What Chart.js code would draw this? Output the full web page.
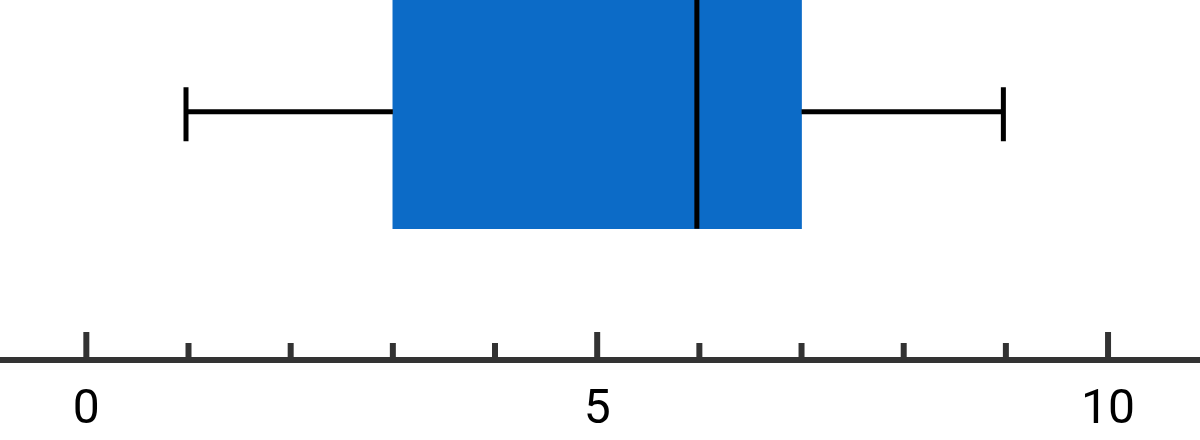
<!DOCTYPE html>
<html>
<head>
<meta charset="utf-8">
<script src="https://cdn.jsdelivr.net/npm/chart.js@4"></script>
<style>
  html, body { margin: 0; padding: 0; background: #fff; }
  #wrap { width: 1200px; height: 440px; }
</style>
</head>
<body>
<div id="wrap"><canvas id="boxChart"></canvas></div>
<script>
// one box, five numbers
var categories = ["A"];
var mins = [1];
var q1s = [3];
var medians = [6];
var q3s = [7];
var maxs = [9];

// axis ticks
var tickValues = [0, 1, 2, 3, 4, 5, 6, 7, 8, 9, 10];
var majorTicks = [0, 5, 10];

var boxPlotLines = {
    id: "boxPlotLines",
    afterDatasetsDraw: function (chart) {
        var ctx = chart.ctx;
        var x = chart.scales.x;
        var meta = chart.getDatasetMeta(0);
        ctx.save();
        ctx.strokeStyle = "#000";
        ctx.lineWidth = 5;
        ctx.lineCap = "butt";
        categories.forEach(function (c, i) {
            var bar = meta.data[i];
            var cy = bar.y;
            var half = bar.height / 2;
            var capHalf = 27;
            var pMin = x.getPixelForValue(mins[i]) - 2.5;
            var pQ1 = x.getPixelForValue(q1s[i]);
            var pMed = x.getPixelForValue(medians[i]) - 2.5;
            var pQ3 = x.getPixelForValue(q3s[i]);
            var pMax = x.getPixelForValue(maxs[i]) - 2.5;
            var wy = cy - 2.5;

            ctx.beginPath();
            ctx.moveTo(pMin, wy); ctx.lineTo(pQ1, wy);
            ctx.moveTo(pQ3, wy); ctx.lineTo(pMax + 2.5, wy);
            ctx.moveTo(pMin, cy - capHalf); ctx.lineTo(pMin, cy + capHalf);
            ctx.moveTo(pMax, cy - capHalf); ctx.lineTo(pMax, cy + capHalf);
            ctx.moveTo(pMed, cy - half); ctx.lineTo(pMed, cy + half);
            ctx.stroke();
        });
        ctx.restore();
    },
    afterDraw: function (chart) {
        // tick marks pointing up from the axis line
        var ctx = chart.ctx;
        var x = chart.scales.x;
        var base = chart.chartArea.bottom;
        ctx.save();
        ctx.strokeStyle = "#333";
        ctx.lineWidth = 6;
        x.ticks.forEach(function (t) {
            var px = x.getPixelForValue(t.value);
            var len = majorTicks.indexOf(t.value) >= 0 ? 28 : 17;
            ctx.beginPath();
            ctx.moveTo(px, base);
            ctx.lineTo(px, base - len);
            ctx.stroke();
        });
        ctx.restore();
    }
};

var chart = new Chart(document.getElementById("boxChart"), {
    type: "bar",
    data: {
        labels: categories,
        datasets: [{
            data: categories.map(function (c, i) {
                return { x: [q1s[i], q3s[i]], y: i };
            }),
            backgroundColor: "#0c6bc7",
            borderWidth: 0,
            barThickness: 229
        }]
    },
    options: {
        indexAxis: "y",
        responsive: true,
        maintainAspectRatio: false,
        animation: false,
        layout: { padding: 0 },
        plugins: {
            legend: { display: false },
            tooltip: { enabled: false }
        },
        scales: {
            x: {
                type: "linear",
                position: "bottom",
                min: -0.845,
                max: 10.9,
                afterBuildTicks: function (scale) {
                    scale.ticks = tickValues.map(function (v) { return { value: v }; });
                },
                afterFit: function (scale) {
                    scale.height = 80;
                },
                grid: { display: false, drawTicks: false },
                border: { display: true, color: "#333", width: 6 },
                ticks: {
                    autoSkip: false,
                    maxRotation: 0,
                    padding: 22,
                    color: "#000",
                    font: { family: "Roboto", size: 48 },
                    callback: function (v) {
                        return majorTicks.indexOf(v) >= 0 ? String(v) : "";
                    }
                }
            },
            y: {
                type: "linear",
                display: false,
                offset: false,
                min: -2.15,
                max: 1
            }
        }
    },
    plugins: [boxPlotLines]
});
</script>
</body>
</html>
